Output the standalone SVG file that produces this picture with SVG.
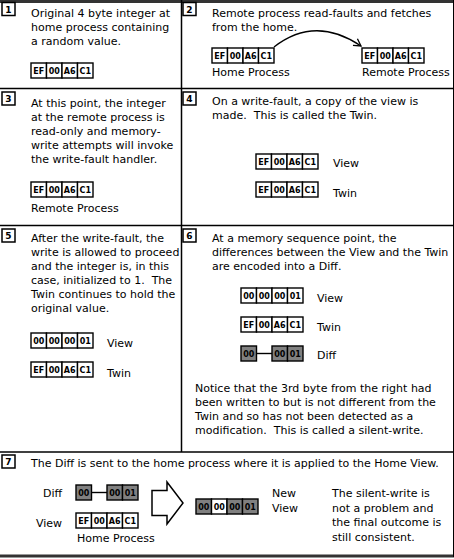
<svg xmlns="http://www.w3.org/2000/svg" width="454" height="559" viewBox="0 0 454 559">
<defs>
<style>
.t{font-family:"DejaVu Sans",sans-serif;font-size:11px;fill:#000}
.n{font-family:"DejaVu Sans",sans-serif;font-size:9px;font-weight:bold;fill:#000;text-anchor:middle}
.nb{fill:#fff;stroke:#000;stroke-width:1.5}
.c{fill:#fff;stroke:#000;stroke-width:1.4}
.g{fill:#808080;stroke:#000;stroke-width:1.4}
.ct{font-family:"DejaVu Sans",sans-serif;font-size:8px;font-weight:bold;fill:#000;text-anchor:middle}
.div{stroke:#000;stroke-width:1.5;fill:none}
</style>
<marker id="ah" markerWidth="10" markerHeight="10" refX="8" refY="5" orient="auto" markerUnits="userSpaceOnUse">
<path d="M1,1 L8,5 L1,9" fill="none" stroke="#000" stroke-width="1.3"/>
</marker>
</defs>
<rect x="0" y="0" width="454" height="559" fill="#fff"/>

<g id="frame">
<line x1="0" y1="1.5" x2="454" y2="1.5" stroke="#333" stroke-width="3"/>
<line x1="0" y1="556" x2="454" y2="556" stroke="#333" stroke-width="3"/>
<line x1="453.5" y1="0" x2="453.5" y2="557" stroke="#000" stroke-width="1"/>
<line x1="181.5" y1="0" x2="181.5" y2="452" class="div"/>
<line x1="0" y1="88.5" x2="454" y2="88.5" class="div"/>
<line x1="0" y1="225.5" x2="454" y2="225.5" class="div"/>
<line x1="0" y1="452" x2="454" y2="452" class="div"/>
</g>

<g id="panel1">
<rect class="nb" x="2" y="2.5" width="13" height="13"/><text class="n" x="8.5" y="12.5">1</text>
<text class="t" x="31" y="17">Original 4 byte integer at</text>
<text class="t" x="31" y="31">home process containing</text>
<text class="t" x="31" y="45">a random value.</text>
<g transform="translate(31,63)">
<rect class="c" x="0" y="0" width="15.5" height="15"/><rect class="c" x="15.5" y="0" width="15.5" height="15"/><rect class="c" x="31" y="0" width="15.5" height="15"/><rect class="c" x="46.5" y="0" width="15.5" height="15"/>
<text class="ct" x="7.75" y="10.6">EF</text><text class="ct" x="23.25" y="10.6">00</text><text class="ct" x="38.75" y="10.6">A6</text><text class="ct" x="54.25" y="10.6">C1</text>
</g>
</g>

<g id="panel2">
<rect class="nb" x="183" y="2.5" width="13" height="13"/><text class="n" x="189.5" y="12.5">2</text>
<text class="t" x="212" y="17">Remote process read-faults and fetches</text>
<text class="t" x="212" y="31">from the home.</text>
<g transform="translate(212,48)">
<rect class="c" x="0" y="0" width="15.5" height="15"/><rect class="c" x="15.5" y="0" width="15.5" height="15"/><rect class="c" x="31" y="0" width="15.5" height="15"/><rect class="c" x="46.5" y="0" width="15.5" height="15"/>
<text class="ct" x="7.75" y="10.6">EF</text><text class="ct" x="23.25" y="10.6">00</text><text class="ct" x="38.75" y="10.6">A6</text><text class="ct" x="54.25" y="10.6">C1</text>
</g>
<text class="t" x="212" y="76">Home Process</text>
<g transform="translate(362,48)">
<rect class="c" x="0" y="0" width="15.5" height="15"/><rect class="c" x="15.5" y="0" width="15.5" height="15"/><rect class="c" x="31" y="0" width="15.5" height="15"/><rect class="c" x="46.5" y="0" width="15.5" height="15"/>
<text class="ct" x="7.75" y="10.6">EF</text><text class="ct" x="23.25" y="10.6">00</text><text class="ct" x="38.75" y="10.6">A6</text><text class="ct" x="54.25" y="10.6">C1</text>
</g>
<text class="t" x="362" y="76">Remote Process</text>
</g>

<g id="panel3">
<rect class="nb" x="2" y="92" width="13" height="13"/><text class="n" x="8.5" y="102">3</text>
<text class="t" x="31" y="107">At this point, the integer</text>
<text class="t" x="31" y="121">at the remote process is</text>
<text class="t" x="31" y="135">read-only and memory-</text>
<text class="t" x="31" y="149">write attempts will invoke</text>
<text class="t" x="31" y="163">the write-fault handler.</text>
<g transform="translate(31,182)">
<rect class="c" x="0" y="0" width="15.5" height="15"/><rect class="c" x="15.5" y="0" width="15.5" height="15"/><rect class="c" x="31" y="0" width="15.5" height="15"/><rect class="c" x="46.5" y="0" width="15.5" height="15"/>
<text class="ct" x="7.75" y="10.6">EF</text><text class="ct" x="23.25" y="10.6">00</text><text class="ct" x="38.75" y="10.6">A6</text><text class="ct" x="54.25" y="10.6">C1</text>
</g>
<text class="t" x="31" y="212">Remote Process</text>
</g>

<g id="panel4">
<rect class="nb" x="183" y="92" width="13" height="13"/><text class="n" x="189.5" y="102">4</text>
<text class="t" x="212" y="105">On a write-fault, a copy of the view is</text>
<text class="t" x="212" y="119" xml:space="preserve">made.  This is called the Twin.</text>
<g transform="translate(256,154)">
<rect class="c" x="0" y="0" width="15.5" height="15"/><rect class="c" x="15.5" y="0" width="15.5" height="15"/><rect class="c" x="31" y="0" width="15.5" height="15"/><rect class="c" x="46.5" y="0" width="15.5" height="15"/>
<text class="ct" x="7.75" y="10.6">EF</text><text class="ct" x="23.25" y="10.6">00</text><text class="ct" x="38.75" y="10.6">A6</text><text class="ct" x="54.25" y="10.6">C1</text>
</g>
<text class="t" x="333" y="167">View</text>
<g transform="translate(256,182)">
<rect class="c" x="0" y="0" width="15.5" height="15"/><rect class="c" x="15.5" y="0" width="15.5" height="15"/><rect class="c" x="31" y="0" width="15.5" height="15"/><rect class="c" x="46.5" y="0" width="15.5" height="15"/>
<text class="ct" x="7.75" y="10.6">EF</text><text class="ct" x="23.25" y="10.6">00</text><text class="ct" x="38.75" y="10.6">A6</text><text class="ct" x="54.25" y="10.6">C1</text>
</g>
<text class="t" x="333" y="197">Twin</text>
</g>

<g id="panel5">
<rect class="nb" x="2" y="229" width="13" height="13"/><text class="n" x="8.5" y="239">5</text>
<text class="t" x="31" y="242">After the write-fault, the</text>
<text class="t" x="31" y="256">write is allowed to proceed</text>
<text class="t" x="31" y="270">and the integer is, in this</text>
<text class="t" x="31" y="284" xml:space="preserve">case, initialized to 1.  The</text>
<text class="t" x="31" y="298">Twin continues to hold the</text>
<text class="t" x="31" y="312">original value.</text>
<g transform="translate(31,333)">
<rect class="c" x="0" y="0" width="15.5" height="15"/><rect class="c" x="15.5" y="0" width="15.5" height="15"/><rect class="c" x="31" y="0" width="15.5" height="15"/><rect class="c" x="46.5" y="0" width="15.5" height="15"/>
<text class="ct" x="7.75" y="10.6">00</text><text class="ct" x="23.25" y="10.6">00</text><text class="ct" x="38.75" y="10.6">00</text><text class="ct" x="54.25" y="10.6">01</text>
</g>
<text class="t" x="107" y="347">View</text>
<g transform="translate(31,362)">
<rect class="c" x="0" y="0" width="15.5" height="15"/><rect class="c" x="15.5" y="0" width="15.5" height="15"/><rect class="c" x="31" y="0" width="15.5" height="15"/><rect class="c" x="46.5" y="0" width="15.5" height="15"/>
<text class="ct" x="7.75" y="10.6">EF</text><text class="ct" x="23.25" y="10.6">00</text><text class="ct" x="38.75" y="10.6">A6</text><text class="ct" x="54.25" y="10.6">C1</text>
</g>
<text class="t" x="107" y="377">Twin</text>
</g>

<g id="panel6">
<rect class="nb" x="183" y="229" width="13" height="13"/><text class="n" x="189.5" y="239">6</text>
<text class="t" x="212" y="242">At a memory sequence point, the</text>
<text class="t" x="212" y="256">differences between the View and the Twin</text>
<text class="t" x="212" y="270">are encoded into a Diff.</text>
<g transform="translate(241,288)">
<rect class="c" x="0" y="0" width="15.5" height="15"/><rect class="c" x="15.5" y="0" width="15.5" height="15"/><rect class="c" x="31" y="0" width="15.5" height="15"/><rect class="c" x="46.5" y="0" width="15.5" height="15"/>
<text class="ct" x="7.75" y="10.6">00</text><text class="ct" x="23.25" y="10.6">00</text><text class="ct" x="38.75" y="10.6">00</text><text class="ct" x="54.25" y="10.6">01</text>
</g>
<text class="t" x="317" y="302">View</text>
<g transform="translate(241,317)">
<rect class="c" x="0" y="0" width="15.5" height="15"/><rect class="c" x="15.5" y="0" width="15.5" height="15"/><rect class="c" x="31" y="0" width="15.5" height="15"/><rect class="c" x="46.5" y="0" width="15.5" height="15"/>
<text class="ct" x="7.75" y="10.6">EF</text><text class="ct" x="23.25" y="10.6">00</text><text class="ct" x="38.75" y="10.6">A6</text><text class="ct" x="54.25" y="10.6">C1</text>
</g>
<text class="t" x="317" y="331">Twin</text>
<g transform="translate(241,346)">
<rect class="g" x="0" y="0" width="15.5" height="15"/><line x1="15.5" y1="7.5" x2="31" y2="7.5" stroke="#000" stroke-width="1.4"/><rect class="g" x="31" y="0" width="15.5" height="15"/><rect class="g" x="46.5" y="0" width="15.5" height="15"/>
<text class="ct" x="7.75" y="10.6">00</text><text class="ct" x="38.75" y="10.6">00</text><text class="ct" x="54.25" y="10.6">01</text>
</g>
<text class="t" x="317" y="359">Diff</text>
<text class="t" x="195" y="392">Notice that the 3rd byte from the right had</text>
<text class="t" x="195" y="406">been written to but is not different from the</text>
<text class="t" x="195" y="420">Twin and so has not been detected as a</text>
<text class="t" x="195" y="434" xml:space="preserve">modification.  This is called a silent-write.</text>
</g>

<g id="panel7">
<rect class="nb" x="2" y="455" width="13" height="13"/><text class="n" x="8.5" y="465">7</text>
<text class="t" x="31" y="467">The Diff is sent to the home process where it is applied to the Home View.</text>
<text class="t" x="43" y="497">Diff</text>
<g transform="translate(76,485)">
<rect class="g" x="0" y="0" width="15.5" height="15"/><line x1="15.5" y1="7.5" x2="31" y2="7.5" stroke="#000" stroke-width="1.4"/><rect class="g" x="31" y="0" width="15.5" height="15"/><rect class="g" x="46.5" y="0" width="15.5" height="15"/>
<text class="ct" x="7.75" y="10.6">00</text><text class="ct" x="38.75" y="10.6">00</text><text class="ct" x="54.25" y="10.6">01</text>
</g>
<text class="t" x="36" y="527">View</text>
<g transform="translate(76,513)">
<rect class="c" x="0" y="0" width="15.5" height="15"/><rect class="c" x="15.5" y="0" width="15.5" height="15"/><rect class="c" x="31" y="0" width="15.5" height="15"/><rect class="c" x="46.5" y="0" width="15.5" height="15"/>
<text class="ct" x="7.75" y="10.6">EF</text><text class="ct" x="23.25" y="10.6">00</text><text class="ct" x="38.75" y="10.6">A6</text><text class="ct" x="54.25" y="10.6">C1</text>
</g>
<text class="t" x="77" y="542">Home Process</text>
<g transform="translate(196,499)">
<rect class="g" x="0" y="0" width="15.5" height="15" stroke="#333"/><rect class="c" x="15.5" y="0" width="15.5" height="15" stroke="#333"/><rect class="g" x="31" y="0" width="15.5" height="15" stroke="#333"/><rect class="g" x="46.5" y="0" width="15.5" height="15" stroke="#333"/>
<text class="ct" x="7.75" y="10.6">00</text><text class="ct" x="23.25" y="10.6">00</text><text class="ct" x="38.75" y="10.6">00</text><text class="ct" x="54.25" y="10.6">01</text>
</g>
<text class="t" x="272" y="497">New</text>
<text class="t" x="272" y="512">View</text>
<text class="t" x="332" y="497">The silent-write is</text>
<text class="t" x="332" y="512">not a problem and</text>
<text class="t" x="332" y="526">the final outcome is</text>
<text class="t" x="332" y="541">still consistent.</text>
</g>

<g id="connectors">
<path d="M274,47 Q315,15 361,46" fill="none" stroke="#000" stroke-width="1.3" marker-end="url(#ah)"/>
<polygon points="152,490.5 167,490.5 167,482 183,503 167,524 167,515.5 152,515.5" fill="#fff" stroke="#000" stroke-width="1.5"/>
</g>
</svg>
